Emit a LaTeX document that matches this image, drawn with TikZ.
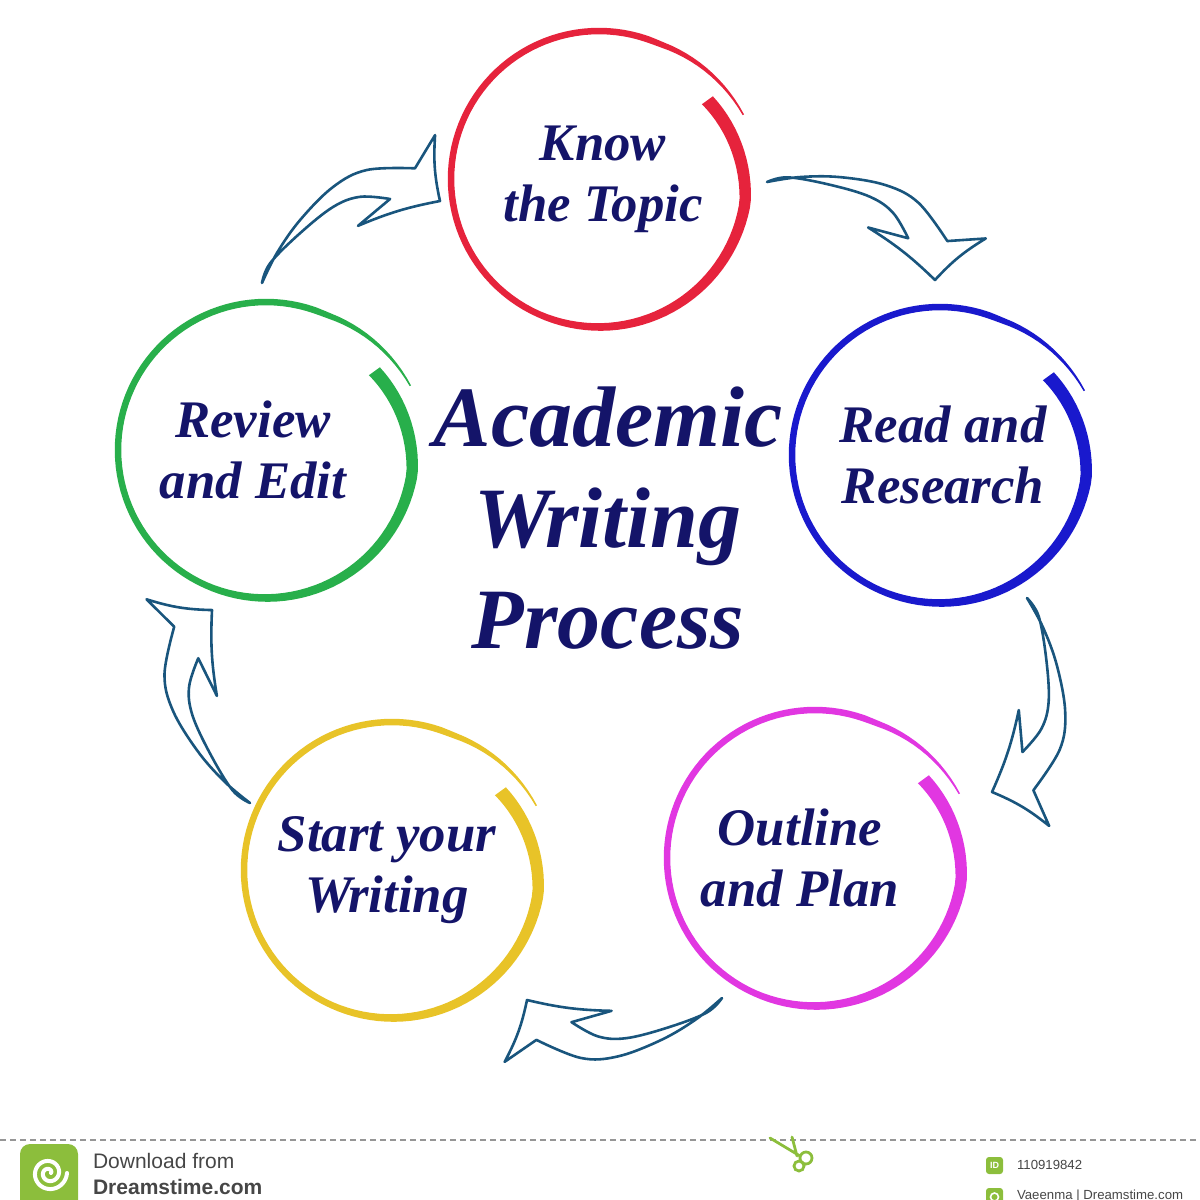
\documentclass[tikz,border=0pt]{standalone}
\usepackage{fontspec}
\setmainfont{Liberation Serif}
\newfontfamily\stripfont{Liberation Sans}
\usetikzlibrary{calc, positioning}

\definecolor{inknavy}{RGB}{20,20,105}
\definecolor{ringred}{RGB}{230,35,60}
\definecolor{ringblue}{RGB}{25,25,205}
\definecolor{ringmagenta}{RGB}{225,55,225}
\definecolor{ringyellow}{RGB}{232,195,40}
\definecolor{ringgreen}{RGB}{40,175,75}
\definecolor{arrowteal}{RGB}{25,85,125}
\definecolor{stripgreen}{RGB}{140,190,60}
\definecolor{stripgray}{RGB}{150,150,150}
\definecolor{stripdark}{RGB}{70,70,70}

\tikzstyle{stage} = [text=inknavy, align=center, inner sep=0pt,
    font=\bfseries\itshape\fontsize{26.4}{30.5}\selectfont]
\tikzstyle{title} = [text=inknavy, align=center, inner sep=0pt,
    font=\bfseries\itshape\fontsize{43}{50.5}\selectfont]
\tikzstyle{arrowline} = [draw=arrowteal, fill=white, line width=1.3pt, line join=round]

\tikzset{
  pics/cycle arrow/.style={code={
    \draw[arrowline] (0,0) -- plot[smooth, tension=0.6] coordinates
        {(0,0) (0.133,0.107) (0.312,0.211) (0.537,0.294) (0.727,0.300) (0.954,0.205)}
      -- (1.118,0.316) to[bend right=8] (1,0) to[bend right=6] (0.567,0.060)
      -- (0.773,0.116)
      -- plot[smooth, tension=0.6] coordinates
        {(0.773,0.116) (0.639,0.190) (0.494,0.201) (0.284,0.150) (0.081,0.075) (0,0)}
      -- cycle;
  }}
}

% radius and width of the brush stroke, s = swept angle
\pgfmathdeclarefunction{brushr}{1}{%
  \pgfmathparse{148-14*max(0,1-#1/45)+10*max(0,(#1-330)/42)}}
\pgfmathdeclarefunction{brushw}{1}{%
  \pgfmathparse{6.5+7*max(0,1-#1/150)-5*max(0,(#1-325)/47)}}

% hand drawn ring round a node, #3 = offset of the ring from the text
\newcommand{\brushring}[3]{%
  \fill[#2, shift={(#1.center)}, shift={#3}]
    plot[domain=0:372, samples=120] ({36-\x}:{brushr(\x)+brushw(\x)/2})
    -- plot[domain=372:0, samples=120] ({36-\x}:{brushr(\x)-brushw(\x)/2})
    -- cycle;}

% hollow curved arrow from one named point to another
\newcommand{\cyclearrow}[2]{%
  \pgfpointdiff{\pgfpointanchor{#1}{center}}{\pgfpointanchor{#2}{center}}%
  \pgfgetlastxy{\cadx}{\cady}%
  \pgfmathsetmacro{\caang}{atan2(\cady,\cadx)}%
  \pgfmathsetmacro{\calen}{veclen(\cadx,\cady)/0.5}%
  \pic[shift={(#1)}, rotate=\caang, scale=\calen] {cycle arrow};}

\begin{document}
\begin{tikzpicture}[x=0.5pt, y=0.5pt]
  \useasboundingbox (0,0) rectangle (1200,-1200);
  % Place nodes
  \node[stage] (topic) at (603,-179) {Know\\the Topic};
  \node[stage] (research) at (943,-455) {Read and\\Research};
  \node[stage] (outline) at (800,-858) {Outline\\and Plan};
  \node[stage] (start) at (387,-870) {Start your\\Writing};
  \node[stage] (review) at (253,-450) {Review\\and Edit};
  \node[title] (process) at (608,-518) {Academic\\Writing\\Process};

  % Rings
  \brushring{topic}{ringred}{(-4,0)}
  \brushring{research}{ringblue}{(-3,0)}
  \brushring{outline}{ringmagenta}{(15,0)}
  \brushring{start}{ringyellow}{(5,0)}
  \brushring{review}{ringgreen}{(13,0)}

  % Arrow ends
  \coordinate (review-out) at ([shift={(9,167)}]review.center);
  \coordinate (topic-in) at ([shift={(-163,-22)}]topic.center);
  \coordinate (topic-out) at ([shift={(164,-3)}]topic.center);
  \coordinate (research-in) at ([shift={(-8,175)}]research.center);
  \coordinate (research-out) at ([shift={(84,-143)}]research.center);
  \coordinate (outline-in) at ([shift={(192,66)}]outline.center);
  \coordinate (outline-out) at ([shift={(-78,-140)}]outline.center);
  \coordinate (start-in) at ([shift={(140,-130)}]start.center);
  \coordinate (start-out) at ([shift={(-137,67)}]start.center);
  \coordinate (review-in) at ([shift={(-41,-160)}]review.center);

  % Draw edges
  \cyclearrow{review-out}{topic-in}
  \cyclearrow{topic-out}{research-in}
  \cyclearrow{research-out}{outline-in}
  \cyclearrow{outline-out}{start-in}
  \cyclearrow{start-out}{review-in}

  % Download strip
  \draw[stripgray, line width=0.6pt, dash pattern=on 3pt off 2pt] (0,-1140) -- (1200,-1140);
  \fill[stripgreen, rounded corners=5pt] (20,-1144) rectangle (78,-1220);
  \draw[white, line width=2pt, line cap=round] plot[domain=0:720, samples=80, smooth]
    ({49+(2+\x/45)*cos(\x)}, {-1173+(2+\x/45)*sin(\x)});
  \node[anchor=west, text=stripdark, font=\stripfont\fontsize{10.5}{12}\selectfont] (dlfrom) at (86,-1161) {Download from};
  \node[anchor=west, text=stripdark, font=\stripfont\bfseries\fontsize{10.5}{12}\selectfont] (dlsite) at (86,-1187) {Dreamstime.com};
  % scissors
  \draw[stripgreen, line width=1.4pt, line cap=round] (770,-1138) -- (800,-1156) (792,-1137) -- (797,-1156);
  \draw[stripgreen, line width=1.4pt] (806,-1158) circle (6) (799,-1166) circle (5);
  % id and author
  \fill[stripgreen, rounded corners=1.5pt] (986,-1157) rectangle (1003,-1174);
  \node[text=white, font=\stripfont\bfseries\fontsize{4.5}{5}\selectfont] (idtag) at (994.5,-1165.5) {ID};
  \node[anchor=west, text=stripdark, font=\stripfont\fontsize{6.6}{8}\selectfont] (idnum) at (1010,-1165) {110919842};
  \fill[stripgreen, rounded corners=1.5pt] (986,-1188) rectangle (1003,-1206);
  \draw[white, line width=0.8pt] (994.5,-1197) circle (4);
  \node[anchor=west, text=stripdark, font=\stripfont\fontsize{6.6}{8}\selectfont] (author) at (1010,-1196) {Vaeenma | Dreamstime.com};
\end{tikzpicture}
\end{document}
